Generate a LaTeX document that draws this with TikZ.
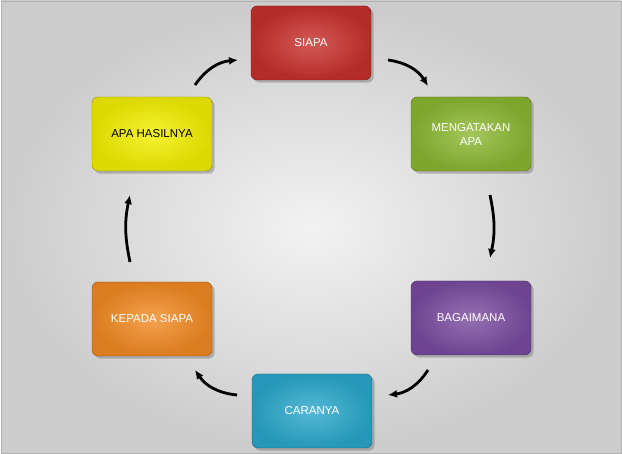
\documentclass[tikz,border=0pt]{standalone}
\usepackage{fontspec}
\setmainfont{Liberation Sans}
\usetikzlibrary{shadows,arrows.meta}
\definecolor{cr}{HTML}{C8302C}
\definecolor{cg}{HTML}{8CB832}
\definecolor{cp}{HTML}{7A4CA0}
\definecolor{cc}{HTML}{2AA8CC}
\definecolor{co}{HTML}{F28A22}
\definecolor{cy}{HTML}{F4F000}
\begin{document}
\begin{tikzpicture}[x=1pt,y=-1pt,
  bx/.style={draw=#1!60!black,rounded corners=6pt,minimum width=120pt,minimum height=74pt,inner color=#1!80!white,outer color=#1!90!black,text=white,font=\fontsize{11.5}{14}\selectfont,align=center,drop shadow},
  ar/.style={-{Latex[length=9pt,width=8pt]},line width=2.8pt,black}]
\useasboundingbox (0,0) rectangle (622,454);
\shade[inner color=gray!10,outer color=gray!40] (1,1) rectangle (621,453);
\draw[gray!60] (1,1) rectangle (621,453);
\node[bx=cr] (s) at (311,43) {SIAPA};
\node[bx=cg] (m) at (471,134) {MENGATAKAN\\APA};
\node[bx=cp] (b) at (471,318) {BAGAIMANA};
\node[bx=cc] (c) at (312,411) {CARANYA};
\node[bx=co] (k) at (152,319) {KEPADA SIAPA};
\node[bx=cy,text=black] (h) at (152,134) {APA HASILNYA};
\coordinate (a1) at (388,60); \coordinate (a2) at (428,86);
\draw[ar] (a1) to[bend left=25] (a2);
\coordinate (b1) at (490,195); \coordinate (b2) at (490,258);
\draw[ar] (b1) to[bend left=12] (b2);
\coordinate (c1) at (428,370); \coordinate (c2) at (388,395);
\draw[ar] (c1) to[bend left=25] (c2);
\coordinate (d1) at (237,395); \coordinate (d2) at (195,370);
\draw[ar] (d1) to[bend left=25] (d2);
\coordinate (e1) at (130,262); \coordinate (e2) at (130,195);
\draw[ar] (e1) to[bend left=12] (e2);
\coordinate (f1) at (195,85); \coordinate (f2) at (238,60);
\draw[ar] (f1) to[bend left=25] (f2);
\end{tikzpicture}
\end{document}
